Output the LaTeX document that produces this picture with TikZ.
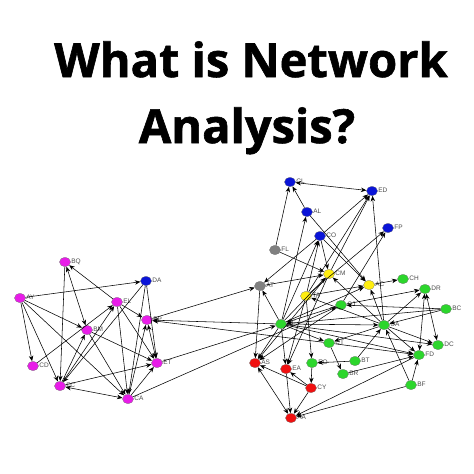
\documentclass[tikz,border=0pt]{standalone}
\usepackage{fontspec}
\usetikzlibrary{shapes.geometric,arrows.meta}
\newfontfamily\titlefont{Open Sans}[BoldFeatures={FakeBold=1.3}]
\newfontfamily\labfont{Liberation Sans}
\definecolor{cmag}{HTML}{E81CE8}
\definecolor{cblue}{HTML}{0A14D8}
\definecolor{cgreen}{HTML}{2CD62C}
\definecolor{cyel}{HTML}{FFEE10}
\definecolor{cred}{HTML}{F01010}
\definecolor{cgray}{HTML}{808080}
\tikzset{
  nd/.style={ellipse, draw=black!55, line width=0.25pt, minimum width=11pt, minimum height=9.5pt, inner sep=0pt},
  mg/.style={nd, fill=cmag},
  bl/.style={nd, fill=cblue},
  gr/.style={nd, fill=cgreen},
  ye/.style={nd, fill=cyel},
  rd/.style={nd, fill=cred},
  gy/.style={nd, fill=cgray},
  lab/.style={font=\labfont\fontsize{6.5}{7}\selectfont, text=black!70, inner sep=0.5pt, yshift=0.5pt},
  e/.style={-{Stealth[length=5.5pt,width=4.5pt]}, line width=0.55pt},
  be/.style={{Stealth[length=5.5pt,width=4.5pt]}-{Stealth[length=5.5pt,width=4.5pt]}, line width=0.55pt},
  ttl/.style={font=\titlefont\bfseries\fontsize{47}{50}\selectfont, anchor=base, inner sep=0pt}
}
\begin{document}
\begin{tikzpicture}[x=1pt,y=-1pt]
\fill[white] (0,0) rectangle (474,474);
\useasboundingbox (0,0) rectangle (474,474);
\node[ttl] (t1) at (251,77) {What is Network};
\node[ttl] (t2) at (247,143) {Analysis?};

% left cluster
\node[mg, label={[lab]right:AY}] (AY) at (20,298) {};
\node[mg, label={[lab]right:BQ}] (BQ) at (65,262) {};
\node[bl, label={[lab]right:DA}] (DA) at (146,281) {};
\node[mg, label={[lab]right:EL}] (EL) at (117,302) {};
\node[mg, label={[lab]right:BP}] (BP) at (147,320) {};
\node[mg, label={[lab]right:BM}] (BM) at (87,330) {};
\node[mg, label={[lab]right:CD}] (CD) at (33,366) {};
\node[mg, label={[lab]right:ET}] (ET) at (157,363) {};
\node[mg, label={[lab]right:FC}] (FC) at (60,386) {};
\node[mg, label={[lab]right:CA}] (CA) at (128,399) {};

% right cluster
\node[bl, label={[lab]right:CL}] (CL) at (290,182) {};
\node[bl, label={[lab]right:ED}] (ED) at (372,191) {};
\node[bl, label={[lab]right:AL}] (AL) at (307,212) {};
\node[bl, label={[lab]right:CO}] (CO) at (320,236) {};
\node[bl, label={[lab]right:FP}] (FP) at (388,228) {};
\node[gy, label={[lab]right:FL}] (FL) at (275,250) {};
\node[gy, label={[lab]right:AT}] (AT) at (260,286) {};
\node[ye, label={[lab]right:CM}] (CM) at (329,274) {};
\node[ye, label={[lab]right:AC}] (AC) at (369,285) {};
\node[ye, label={[lab]right:TA}] (TA) at (306,296) {};
\node[gr, label={[lab]right:CH}] (CH) at (403,279) {};
\node[gr, label={[lab]right:DR}] (DR) at (425,289) {};
\node[gr, label={[lab]right:CJ}] (CJ) at (341,305) {};
\node[gr, label={[lab]right:BC}] (BC) at (446,309) {};
\node[gr, label={[lab]right:EF}] (EF) at (281,324) {};
\node[gr, label={[lab]right:UA}] (UA) at (384,325) {};
\node[gr, label={[lab]right:CT}] (CT) at (329,343) {};
\node[gr, label={[lab]right:DC}] (DC) at (438,345) {};
\node[gr, label={[lab]right:FD}] (FD) at (419,355) {};
\node[rd, label={[lab]right:AS}] (AS) at (255,363) {};
\node[rd, label={[lab]right:EA}] (EA) at (286,369) {};
\node[gr, label={[lab]right:EO}] (EO) at (312,363) {};
\node[gr, label={[lab]right:BT}] (BT) at (355,361) {};
\node[gr, label={[lab]right:BR}] (BR) at (343,374) {};
\node[rd, label={[lab]right:CY}] (CY) at (311,388) {};
\node[gr, label={[lab]right:BF}] (BF) at (411,385) {};
\node[rd, label={[lab]right:AA}] (AA) at (291,418) {};

% left cluster edges
\foreach \a/\b in {AY/DA, AY/BM, AY/CD, AY/FC, AY/CA, EL/BQ, BQ/FC, EL/BP, EL/ET, EL/CA,
  CD/EL, FC/EL, FC/BM, BM/ET, BM/CA, DA/FC, DA/ET, DA/CA, CA/BP, CA/ET, FC/ET}
  \draw[e] (\a) -- (\b);
\draw[be] (BQ) -- (BM);
\draw[be] (CA) -- (FC);
\draw[be] (BP) -- (ET);

% cross edges
\foreach \a/\b in {BP/AT, EF/BP, CT/BP, ET/EF, CA/CJ}
  \draw[e] (\a) -- (\b);

% right cluster edges
\draw[be] (CL) -- (ED);
\foreach \a/\b in {AL/CL, FL/CL, AL/AC, CO/ED, CM/ED, TA/ED, CO/AT, CO/CM, CO/AC, FL/CM,
  AT/CM, TA/CO, EF/AL, EF/CO, TA/FP, CJ/FP, TA/AC, AC/CH, UA/ED, UA/CM, UA/AC, UA/DR,
  CJ/DR, BC/EF, BC/CJ, BC/UA, UA/FD, UA/DC, EF/UA, EF/DC, EF/FD, CT/FD, UA/CT, EF/CT,
  BT/UA, BT/EO, BR/FD, BF/UA, BF/FD, BF/AA, FD/AA, EO/CY, CY/AA, CY/EA, CY/AS, EA/AA,
  EF/AS, EF/EA, TA/EA, TA/EO, CM/EA, AT/AS, CT/BR, EF/AC, EF/CM, EF/AT, CJ/EF, UA/TA,
  CJ/AS, CM/AS}
  \draw[e] (\a) -- (\b);
\draw[be] (DR) -- (FD);
\draw[be] (DR) -- (DC);
\draw[be] (AS) -- (AA);
\end{tikzpicture}
\end{document}
